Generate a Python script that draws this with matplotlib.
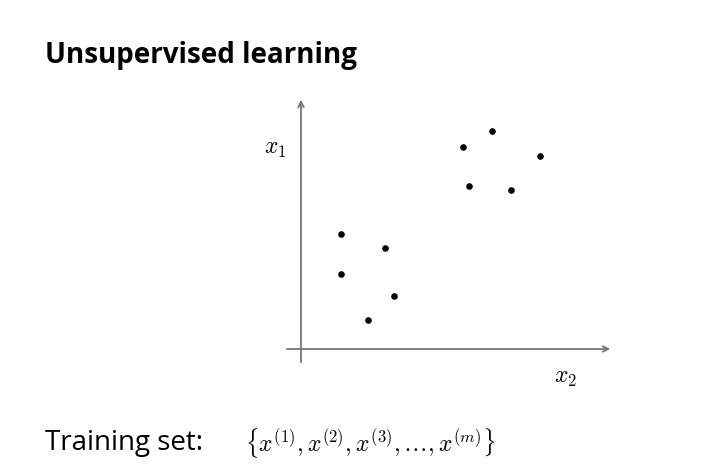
import matplotlib
matplotlib.use('Agg')
from matplotlib import pyplot as plt

plt.rcParams['mathtext.fontset'] = 'cm'

# cluster points (x2, x1), origin at the axes corner
x2_vals = [40, 40, 84, 93, 67, 162, 191, 239, 168, 210]
x1_vals = [115, 75, 101, 53, 29, 202, 218, 193, 163, 159]

fig = plt.figure(figsize=(7.1, 4.73), dpi=100)
ax = fig.add_axes([0, 0, 1, 1])
ax.set_xlim(-301, 409)
ax.set_ylim(-124, 349)
ax.axis('off')

ax.scatter(x2_vals, x1_vals, s=14, color='black')

arrow = dict(arrowstyle='->', color='#777777', lw=1.3)
ax.annotate('', xy=(312, 0), xytext=(-17, 0), arrowprops=arrow)
ax.annotate('', xy=(0, 252), xytext=(0, -16), arrowprops=arrow)

ax.text(-26, 201, r'$x_1$', fontsize=17, ha='center', va='center')
ax.text(264, -28, r'$x_2$', fontsize=17, ha='center', va='center')

fig.text(45/710, 1 - 55/473, 'Unsupervised learning', fontsize=20,
         fontweight='bold', family='Open Sans', va='center')
fig.text(45/710, 1 - 443/473, 'Training set:', fontsize=20,
         family='Open Sans', va='center')
fig.text(245/710, 1 - 443/473,
         r'$\{x^{(1)},x^{(2)},x^{(3)},\ldots,x^{(m)}\}$',
         fontsize=17, va='center')

plt.savefig('out.png', dpi=100)
